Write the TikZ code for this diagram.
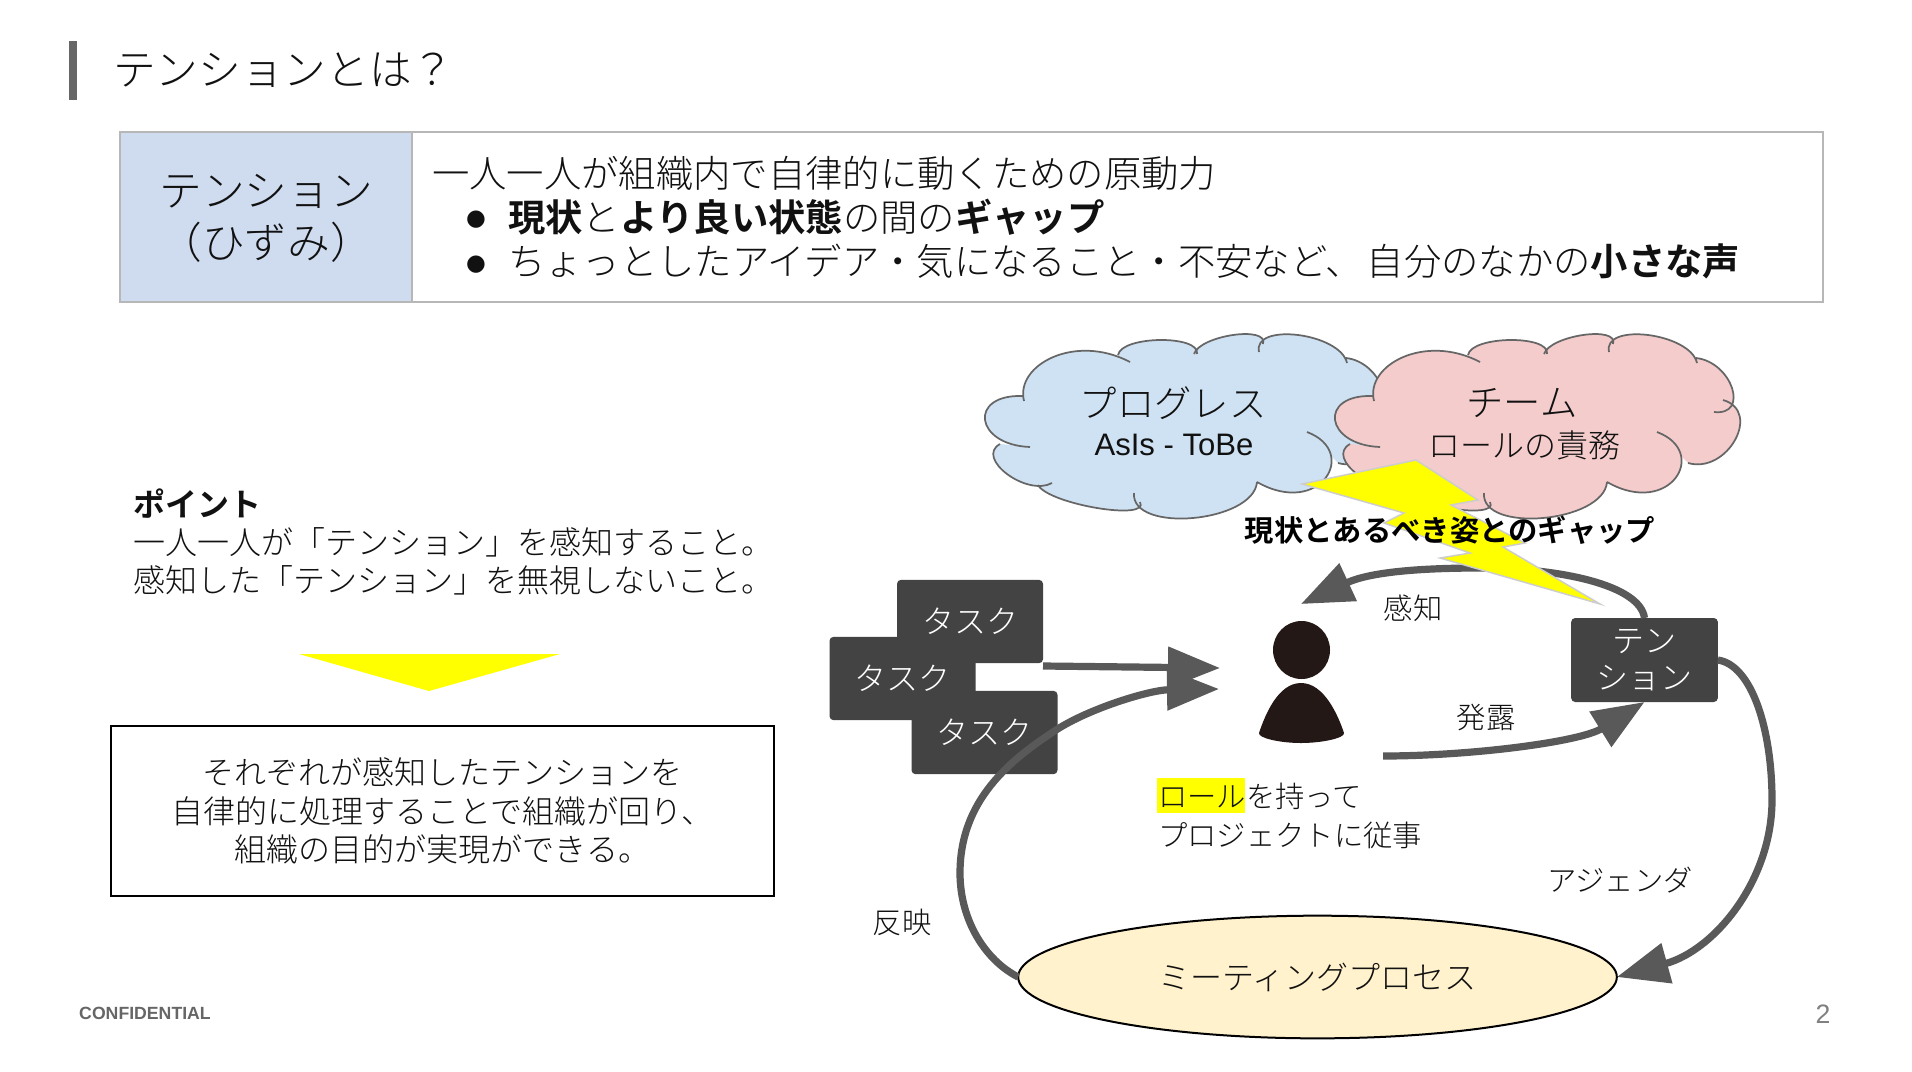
\documentclass[tikz,border=0pt]{standalone}
\usepackage{fontspec}
\setmainfont{Noto Sans CJK JP}[UprightFont=* Light,BoldFont=* Bold]
\newfontfamily\bulletfont{DejaVu Sans}
\newfontfamily\latinfont{Liberation Sans}
\usetikzlibrary{arrows.meta,shapes.geometric}
\definecolor{cellblue}{HTML}{CFDBEE}
\definecolor{gridgrey}{HTML}{B7B7B7}
\definecolor{cloudblue}{HTML}{CFE2F3}
\definecolor{cloudpink}{HTML}{F4CCCC}
\definecolor{cloudline}{HTML}{666666}
\definecolor{darkbox}{HTML}{434343}
\definecolor{arrowgrey}{HTML}{595959}
\definecolor{cream}{HTML}{FFF2CC}
\definecolor{persondark}{HTML}{231815}
\definecolor{txt}{HTML}{111111}
\definecolor{hilite}{HTML}{FFFF00}
\def\lb#1#2#3#4#5#6{.. controls ({(#1-2*#5+4*#3)/3},{(#2-2*#6+4*#4)/3}) and ({(#5-2*#1+4*#3)/3},{(#6-2*#2+4*#4)/3}) .. (#5,#6)}
\def\cloudpath#1{%
    (1024,401) .. controls (1015,365) and (1075,333) .. (1130,362)
    #1 (1118,355) \lb{1118}{355}{1160}{340}{1197}{354}
    #1 (1194,354) \lb{1194}{354}{1233}{335}{1263}{344}
    #1 (1259,352) \lb{1259}{352}{1298}{335}{1347}{363}
    #1 (1346,358) \lb{1346}{358}{1382}{388}{1364}{412}
    #1 (1373,400) \lb{1373}{400}{1385}{440}{1338}{463}
    #1 (1307,432) .. controls (1360,452) and (1320,518) .. (1257,482)
    #1 (1257,482) \lb{1257}{482}{1193}{518}{1134}{493}
    #1 (1140,502) \lb{1140}{502}{1097}{508}{1038}{485}
    #1 (1052,483) \lb{1052}{483}{1007}{474}{1000}{444}
    #1 (1030,447) \lb{1030}{447}{985}{420}{1023}{396}
}
\def\cloudbody#1{%
  \fill[#1] \cloudpath{--} -- cycle;
  \draw[cloudline,line width=1.3pt] \cloudpath{};
}
\tikzset{
  txtnode/.style={inner sep=0pt,outer sep=0pt,text=txt},
  big/.style={font=\fontsize{32}{39}\selectfont},
  mid/.style={font=\fontsize{28}{33}\selectfont},
  normal/.style={font=\fontsize{24}{29}\selectfont},
  small/.style={font=\fontsize{22}{29}\selectfont},
  taskbox/.style={fill=darkbox,rounded corners=3pt,minimum width=109.5pt,minimum height=62.5pt,inner sep=0pt,outer sep=0pt,text=white,normal,align=center},
  flow/.style={draw=arrowgrey,line width=5.4pt,-{Triangle[length=39pt,width=30pt]}},
}
\begin{document}
\begin{tikzpicture}[x=0.75pt,y=-0.75pt]
\useasboundingbox (0,0) rectangle (1912,1071);
\fill[white] (0,0) rectangle (1912,1071);
% title
\fill[cloudline] (69,41) rectangle (77,100);
\node[txtnode,big,anchor=west] (title) at (113,70) {テンションとは？};
% table
\fill[cellblue] (120,132) rectangle (412,302);
\draw[gridgrey,line width=1.9pt] (120,132) rectangle (1823,302);
\draw[gridgrey,line width=1.5pt] (412,132) -- (412,302);
\node[txtnode,big,align=center] (cell) at (266,218) {テンション\\（ひずみ）};
\node[txtnode,mid,anchor=west] (l1) at (432,173) {一人一人が組織内で自律的に動くための原動力};
\node[txtnode,font=\bulletfont\fontsize{17}{20}\selectfont] (b1) at (476,220) {●};
\node[txtnode,mid,anchor=west] (l2) at (508,217) {{\bfseries 現状}と{\bfseries より良い状態}の間の{\bfseries ギャップ}};
\node[txtnode,font=\bulletfont\fontsize{17}{20}\selectfont] (b2) at (476,265) {●};
\node[txtnode,mid,anchor=west] (l3) at (508,261) {ちょっとしたアイデア・気になること・不安など、\hspace{3pt}自分のなかの{\bfseries 小さな声}};
% left text
\node[txtnode,anchor=north west,align=left,font=\fontsize{24}{28.5}\selectfont] (point) at (133,489) {{\bfseries ポイント}\\一人一人が「テンション」を感知すること。\\感知した「テンション」を無視しないこと。};
\fill[hilite] (299,654) -- (560,654) -- (429,691) -- cycle;
\node[draw=black,line width=1.5pt,minimum width=497pt,minimum height=127pt,inner sep=0pt,outer sep=0pt,align=center,text=txt,font=\fontsize{24}{29}\selectfont] (msg) at (442.5,811) {それぞれが感知したテンションを\\自律的に処理することで組織が回り、\\組織の目的が実現ができる。};
% footer
\node[inner sep=0pt,text=cloudline,font=\latinfont\bfseries\fontsize{13.25}{15}\selectfont] (conf) at (145,1013) {CONFIDENTIAL};
\node[inner sep=0pt,text=gray,font=\latinfont\fontsize{20}{24}\selectfont] (pageno) at (1823,1014) {2};
% clouds
\cloudbody{cloudblue}
\begin{scope}[shift={(350,0)}]
\cloudbody{cloudpink}
\end{scope}
\node[txtnode,mid] (progress) at (1173,403) {プログレス};
\node[txtnode,font=\latinfont\fontsize{23.3}{29}\selectfont] (asis) at (1174,445) {AsIs - ToBe};
\node[txtnode,mid] (team) at (1522,403) {チーム};
\node[txtnode,normal] (role) at (1524,445) {ロールの責務};
% tasks
\node[taskbox] (task1) at (970,621.5) {タスク};
\node[taskbox] (task2) at (902.5,678.5) {タスク};
\node[taskbox] (task3) at (984.5,732.5) {タスク};
% person
\fill[persondark] (1301.5,650) ellipse (28.5 and 29);
\fill[persondark] (1301,683) .. controls (1278,683) and (1265,715) .. (1259,733) .. controls (1258,738) and (1280,743) .. (1301,743) .. controls (1322,743) and (1345,738) .. (1344,733) .. controls (1338,715) and (1324,683) .. (1301,683) -- cycle;
\coordinate (p1) at (1220,668);
\coordinate (p2) at (1219,689);
\coordinate (p3) at (1301,604);
\coordinate (p4) at (1383,756);
\coordinate (taskout) at (1043,666);
% tension + meeting
\node[taskbox,minimum width=110pt,minimum height=63pt,font=\fontsize{24}{28}\selectfont] (tension) at (1644.5,660) {テン\\ション};
\node[draw=black,fill=cream,line width=1.5pt,ellipse,minimum width=449pt,minimum height=92pt,inner sep=0pt,outer sep=0pt,text=txt,normal] (meeting) at (1317.5,977) {ミーティングプロセス};
% connectors
\draw[flow] (taskout) -- (p1);
\draw[flow] (meeting.west) .. controls (985,960) and (960,920) .. (960,873) .. controls (960,800) and (1010,760) .. (1056,730) .. controls (1090,708) and (1150,690) .. (p2);
\draw[flow] (tension.north) .. controls (1640,585) and (1560,568) .. (1480,568) .. controls (1420,568) and (1370,572) .. (p3);
\draw[flow] (p4) .. controls (1470,756) and (1580,742) .. (tension.south);
\draw[flow] (tension.east) .. controls (1752,665) and (1772,730) .. (1772,800) .. controls (1772,880) and (1715,950) .. (meeting.east);
% lightning
\path[fill=hilite,draw=gridgrey!70,line width=1.1pt,line join=miter] (1416,460) -- (1478,500) -- (1451,505) -- (1525,543) -- (1503,547) -- (1600,604) -- (1440,558) -- (1470,553) -- (1384,523) -- (1404,513) -- (1302,484) -- cycle;
% labels
\node[txtnode,text=black,font=\bfseries\fontsize{22}{26}\selectfont] (gap) at (1450,530) {現状とあるべき姿とのギャップ};
\node[txtnode,small] (sense) at (1413,608) {感知};
\node[txtnode,small] (reveal) at (1486,717) {発露};
\node[txtnode,small] (agenda) at (1620,880) {アジェンダ};
\node[txtnode,small] (reflect) at (902,922) {反映};
\fill[hilite] (1157,778) rectangle (1245,813);
\node[txtnode,anchor=north west,align=left,font=\fontsize{22}{29}\selectfont] (work) at (1158,783) {ロールを持って\\プロジェクトに従事};
\end{tikzpicture}
\end{document}
